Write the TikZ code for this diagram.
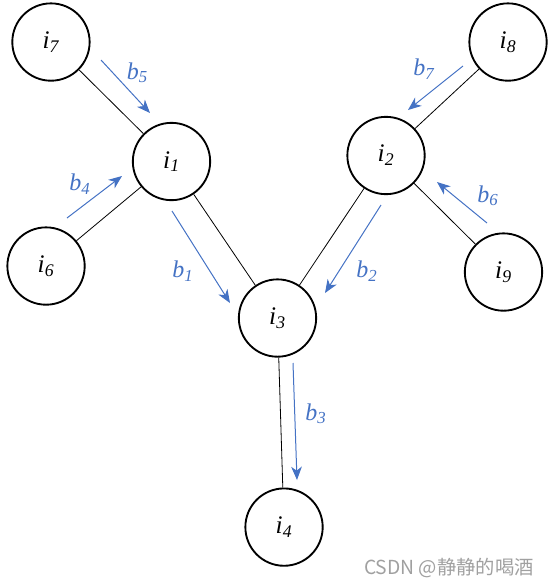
\documentclass[tikz,border=0pt]{standalone}
\usepackage{fontspec}
\setmainfont{Liberation Serif}
\newfontfamily\cjkfont{Noto Sans CJK SC}
\usepackage{tikz}
\usetikzlibrary{positioning,arrows.meta}
\definecolor{flowblue}{RGB}{68,114,196}
\definecolor{markgray}{RGB}{160,160,160}

\begin{document}
\begin{tikzpicture}[x=0.75pt,y=-0.75pt,on grid,
		vertex/.style={circle,draw,line width=1.4pt,minimum size=58pt,inner sep=0pt,font=\fontsize{19}{22}\selectfont\itshape},
		wire/.style={line width=0.6pt},
		flow/.style={flowblue,line width=0.75pt,-{Stealth[length=10pt,width=8pt,inset=3pt]}},
		tag/.style={text=flowblue,font=\fontsize{18}{21}\selectfont\itshape}]
					\useasboundingbox (0,0) rectangle (550,587);
					\node[vertex] (i_1) at (171.5,161.5) {i\textsubscript{1}};
					\node[vertex] (i_7) [above left=89.6pt and 90.4pt of i_1] {i\textsubscript{7}};
					\node[vertex] (i_6) [below left=78.4pt and 94.1pt of i_1] {i\textsubscript{6}};
					\node[vertex] (i_3) [below right=117.4pt and 79.5pt of i_1] {i\textsubscript{3}};
					\node[vertex] (i_4) [below right=156.8pt and 4.9pt of i_3] {i\textsubscript{4}};
					\node[vertex] (i_2) [above right=121.9pt and 81.4pt of i_3] {i\textsubscript{2}};
					\node[vertex] (i_8) [above right=85.1pt and 91.5pt of i_2] {i\textsubscript{8}};
					\node[vertex] (i_9) [below right=87.4pt and 88.1pt of i_2] {i\textsubscript{9}};

					\path[wire]
					(i_1)
					edge (i_7)
					edge (i_6)
					edge (i_3)
					(i_2)
					edge (i_8)
					edge (i_9)
					edge (i_3)
					(i_3)
					edge (i_4);

					\draw[flow] (101,60) coordinate (b5 tail) -- (150,113) coordinate (b5 head);
					\draw[flow] (67,218) coordinate (b4 tail) -- (122,176) coordinate (b4 head);
					\draw[flow] (172,211) coordinate (b1 tail) -- (230,303) coordinate (b1 head);
					\draw[flow] (463,66) coordinate (b7 tail) -- (408,110) coordinate (b7 head);
					\draw[flow] (487,223) coordinate (b6 tail) -- (437,182) coordinate (b6 head);
					\draw[flow] (381,205) coordinate (b2 tail) -- (325,293) coordinate (b2 head);
					\draw[flow] (293,363) coordinate (b3 tail) -- (297,480) coordinate (b3 head);

					\node[tag] (b_5) at (137.5,73) {b\textsubscript{5}};
					\node[tag] (b_4) at (80,184) {b\textsubscript{4}};
					\node[tag] (b_1) at (183,271) {b\textsubscript{1}};
					\node[tag] (b_7) at (424,69) {b\textsubscript{7}};
					\node[tag] (b_6) at (488,196) {b\textsubscript{6}};
					\node[tag] (b_2) at (367,271) {b\textsubscript{2}};
					\node[tag] (b_3) at (316,414) {b\textsubscript{3}};

					\node[text=markgray,font=\cjkfont\fontsize{14.5}{17}\selectfont] (mark) at (449,568) {CSDN @静静的喝酒};
				\end{tikzpicture}
\end{document}
